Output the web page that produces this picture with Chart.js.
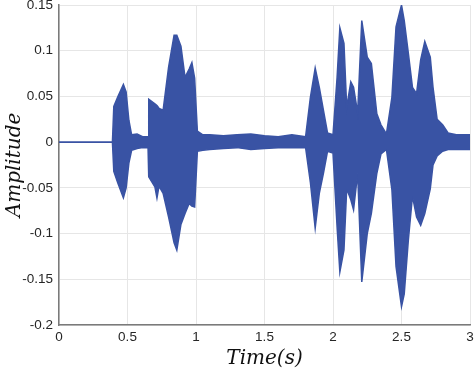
<!DOCTYPE html>
<html>
<head>
<meta charset="utf-8">
<script src="https://cdn.jsdelivr.net/npm/chart.js@4/dist/chart.umd.min.js"></script>
<style>
  html, body { margin: 0; padding: 0; background: #fff; }
  #wrap { width: 474px; height: 390px; }
</style>
</head>
<body>
<div id="wrap"><canvas id="wave"></canvas></div>
<script>
// envelope of the speech waveform (seconds / amplitude)
const times = [0, 0.39, 0.40, 0.43, 0.47, 0.49, 0.51, 0.53, 0.57, 0.61, 0.65,
  0.655, 0.70, 0.715, 0.73, 0.76, 0.80, 0.84, 0.86, 0.89, 0.92, 0.95, 0.97, 0.99,
  1.01, 1.05, 1.1, 1.2, 1.3, 1.4, 1.5, 1.6, 1.7, 1.8,
  1.835, 1.87, 1.90, 1.93, 1.96, 2.00,
  2.03, 2.05, 2.08, 2.10, 2.13, 2.15, 2.18, 2.21, 2.25, 2.28, 2.32, 2.35, 2.39,
  2.43, 2.46, 2.50, 2.52, 2.55, 2.58, 2.61, 2.64, 2.67, 2.71, 2.73, 2.76, 2.80,
  2.84, 2.9, 3.0];
const upper = [0, 0, 0.039, 0.050, 0.063, 0.055, 0.024, 0.008, 0.009, 0.006, 0.006,
  0.047, 0.042, 0.040, 0.037, 0.035, 0.082, 0.117, 0.117, 0.105, 0.071, 0.080, 0.087, 0.070,
  0.012, 0.008, 0.008, 0.007, 0.008, 0.009, 0.007, 0.006, 0.008, 0.006,
  0.049, 0.081, 0.060, 0.035, 0.010, 0.008,
  0.071, 0.125, 0.108, 0.038, 0.066, 0.060, 0.032, 0.133, 0.093, 0.086, 0.031, 0.019, 0.009,
  0.049, 0.126, 0.150, 0.133, 0.097, 0.060, 0.053, 0.090, 0.110, 0.093, 0.060, 0.025, 0.019,
  0.010, 0.008, 0.008];
const lower = [0, 0, -0.032, -0.045, -0.061, -0.050, -0.023, -0.009, -0.007, -0.006, -0.006,
  -0.038, -0.049, -0.061, -0.048, -0.056, -0.082, -0.110, -0.118, -0.090, -0.078, -0.067, -0.070, -0.071,
  -0.010, -0.009, -0.008, -0.007, -0.006, -0.008, -0.007, -0.006, -0.006, -0.006,
  -0.044, -0.094, -0.056, -0.034, -0.010, -0.012,
  -0.093, -0.142, -0.118, -0.051, -0.063, -0.074, -0.034, -0.153, -0.100, -0.078, -0.034, -0.013, -0.008,
  -0.052, -0.136, -0.180, -0.166, -0.107, -0.059, -0.082, -0.091, -0.078, -0.051, -0.025, -0.015, -0.010,
  -0.008, -0.008, -0.008];

const WAVE_COLOR = 'rgb(57, 83, 164)';
const tickFont = { family: 'Liberation Sans, Arial, sans-serif', size: 13.5 };
const titleFont = { family: 'DejaVu Serif, serif', size: 20, style: 'italic' };

function toPoints(vals) {
  return times.map((t, i) => ({ x: t, y: vals[i] }));
}

new Chart(document.getElementById('wave'), {
  type: 'line',
  data: {
    datasets: [{
      data: toPoints(upper),
      borderColor: WAVE_COLOR,
      backgroundColor: WAVE_COLOR,
      borderWidth: 1.5,
      pointRadius: 0,
      tension: 0,
      fill: '+1'
    }, {
      data: toPoints(lower),
      borderColor: WAVE_COLOR,
      backgroundColor: WAVE_COLOR,
      borderWidth: 1.5,
      pointRadius: 0,
      tension: 0,
      fill: false
    }]
  },
  options: {
    responsive: true,
    maintainAspectRatio: false,
    animation: false,
    layout: { padding: { top: 5, right: 4, left: 0, bottom: 0 } },
    plugins: { legend: { display: false }, tooltip: { enabled: false } },
    scales: {
      x: {
        type: 'linear',
        min: 0,
        max: 3,
        afterFit: s => { s.height = 65; s.paddingRight = 0; s.paddingLeft = 0; },
        ticks: {
          stepSize: 0.5,
          color: '#262626',
          font: tickFont,
          padding: 4,
          callback: v => String(Number(v.toFixed(2)))
        },
        grid: { color: '#e6e6e6', drawTicks: false },
        border: { color: '#7a7a7a', width: 1.5 },
        title: { display: true, text: 'Time(s)', color: '#111', font: titleFont, padding: { top: 0, bottom: 19 } }
      },
      y: {
        min: -0.2,
        max: 0.15,
        afterFit: s => { s.width = 59; s.paddingTop = 0; s.paddingBottom = 0; },
        ticks: {
          stepSize: 0.05,
          color: '#262626',
          font: tickFont,
          padding: 6,
          callback: v => String(Number(v.toFixed(2)))
        },
        grid: { color: '#e6e6e6', drawTicks: false },
        border: { color: '#7a7a7a', width: 1.5 },
        title: { display: true, text: 'Amplitude', color: '#111', font: titleFont, padding: { top: 3, bottom: 0 } }
      }
    }
  }
});
</script>
</body>
</html>
